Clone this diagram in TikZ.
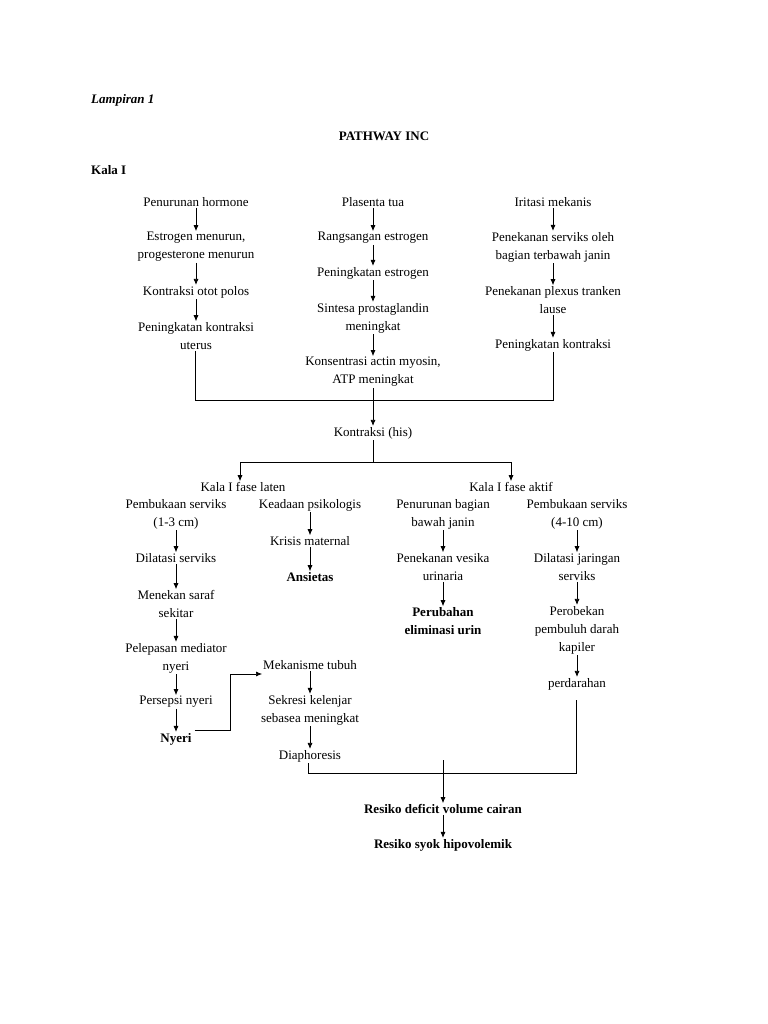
\documentclass[tikz,border=0pt]{standalone}
\usepackage{fontspec}
\setmainfont{Liberation Serif}
\usetikzlibrary{arrows.meta,positioning}
\tikzset{
  txt/.style={inner sep=1bp,align=center,font=\fontsize{13bp}{18bp}\selectfont},
  bf/.style={txt,font=\fontsize{13bp}{18bp}\selectfont\bfseries},
  arr/.style={-{Latex[length=6bp,width=5bp]},line width=0.7bp},
  ln/.style={line width=0.7bp},
}
\begin{document}
\begin{tikzpicture}[x=1bp,y=-1bp]
\useasboundingbox (0,0) rectangle (768,1024);
%% heading
\node[txt,anchor=west,font=\fontsize{13bp}{18bp}\selectfont\bfseries\itshape] (lamp) at (90,100) {Lampiran 1};
\node[bf] (title) at (384,136) {PATHWAY INC};
\node[bf,anchor=west] (kala) at (90,170) {Kala I};
%% column 1
\node[txt] (a1) at (196,202) {Penurunan hormone};
\node[txt] (a2) at (196,247) {Estrogen menurun,\\progesterone menurun};
\node[txt] (a3) at (196,292) {Kontraksi otot polos};
\node[txt] (a4) at (196,336) {Peningkatan kontraksi\\uterus};
%% column 2
\node[txt] (b1) at (373,202) {Plasenta tua};
\node[txt] (b2) at (373,238) {Rangsangan estrogen};
\node[txt] (b3) at (373,273) {Peningkatan estrogen};
\node[txt] (b4) at (373,318) {Sintesa prostaglandin\\meningkat};
\node[txt] (b5) at (373,372) {Konsentrasi actin myosin,\\ATP meningkat};
%% column 3
\node[txt] (c1) at (553,202) {Iritasi mekanis};
\node[txt] (c2) at (553,247) {Penekanan serviks oleh\\bagian terbawah janin};
\node[txt] (c3) at (553,300) {Penekanan plexus tranken\\lause};
\node[txt] (c4) at (553,345) {Peningkatan kontraksi};
\foreach \u/\v in {a1/a2,a2/a3,a3/a4,b1/b2,b2/b3,b3/b4,b4/b5,c1/c2,c2/c3,c3/c4}
  \draw[arr] (\u) -- (\v);
%% joining
\coordinate (j1) at (195,400);
\coordinate (j3) at (553,400);
\draw[ln] (a4.south -| j1) -- (j1) -- (j3) -- (c4.south -| j3);
\node[txt] (his) at (373,433) {Kontraksi (his)};
\draw[arr] (b5) -- (his);
\coordinate (s0) at (373,462);
\coordinate (sl) at (240,462);
\coordinate (sr) at (511,462);
\node[txt] (lat) at (243,487) {Kala I fase laten};
\node[txt] (akt) at (511,487) {Kala I fase aktif};
\draw[ln] (his) -- (s0);
\draw[ln] (sl) -- (sr);
\draw[arr] (sl) -- (sl |- lat.north);
\draw[arr] (sr) -- (akt);
%% laten
\node[txt] (d1) at (176,514) {Pembukaan serviks\\(1-3 cm)};
\node[txt] (d2) at (176,558) {Dilatasi serviks};
\node[txt] (d3) at (176,604) {Menekan saraf\\sekitar};
\node[txt] (d4) at (176,658) {Pelepasan mediator\\nyeri};
\node[txt] (d5) at (176,702) {Persepsi nyeri};
\node[bf] (d6) at (176,739) {Nyeri};
\node[txt] (e1) at (310,505) {Keadaan psikologis};
\node[txt] (e2) at (310,541) {Krisis maternal};
\node[bf] (e3) at (310,577) {Ansietas};
%% aktif
\node[txt] (f1) at (443,514) {Penurunan bagian\\bawah janin};
\node[txt] (f2) at (443,567) {Penekanan vesika\\urinaria};
\node[bf] (f3) at (443,621) {Perubahan\\eliminasi urin};
\node[txt] (g1) at (577,514) {Pembukaan serviks\\(4-10 cm)};
\node[txt] (g2) at (577,567) {Dilatasi jaringan\\serviks};
\node[txt] (g3) at (577,630) {Perobekan\\pembuluh darah\\kapiler};
\node[txt] (g4) at (577,684) {perdarahan};
%% mekanisme
\node[txt] (h1) at (310,665) {Mekanisme tubuh};
\node[txt] (h2) at (310,710) {Sekresi kelenjar\\sebasea meningkat};
\node[txt] (h3) at (310,756) {Diaphoresis};
\foreach \u/\v in {d1/d2,d2/d3,d3/d4,d4/d5,d5/d6,e1/e2,e2/e3,f1/f2,f2/f3,g1/g2,g2/g3,g3/g4,h1/h2,h2/h3}
  \draw[arr] (\u) -- (\v);
\draw[arr] (d6.east) ++(2,-9) -- (230,730) -- (230,674) -- (h1.west |- 0,674);
%% bottom
\coordinate (k1) at (308,773);
\coordinate (k2) at (576,773);
\coordinate (k0) at (443,773);
\draw[ln] (h3.south -| k1) -- (k1) -- (k2) -- (576,700);
\node[bf] (r1) at (443,809) {Resiko deficit volume cairan};
\node[bf] (r2) at (443,845) {Resiko syok hipovolemik};
\draw[arr] (443,760) -- (r1);
\draw[arr] (r1) -- (r2);
\end{tikzpicture}
\end{document}
